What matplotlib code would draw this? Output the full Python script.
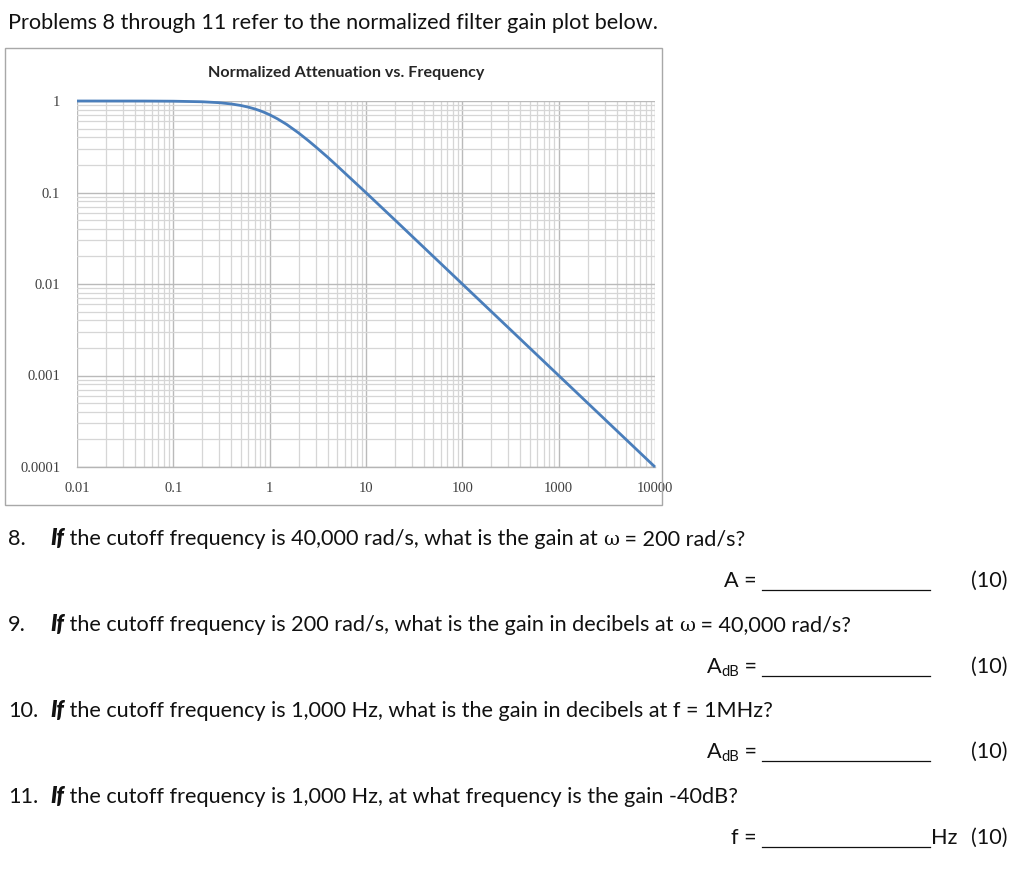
import matplotlib
matplotlib.use('Agg')
import matplotlib.pyplot as plt
from matplotlib.ticker import LogLocator, NullFormatter
from matplotlib.patches import Rectangle
from matplotlib.lines import Line2D
import numpy as np

# ---- data ----
freq = [0.01, 0.05, 0.1, 0.2, 0.3, 0.4, 0.5, 0.6, 0.7, 0.8, 0.9, 1.0, 1.2, 1.5,
        2.0, 2.5, 3.0, 4.0, 5.0, 7.0, 10, 20, 50, 100, 1000, 10000]
gain = [1.0, 0.999, 0.995, 0.981, 0.958, 0.928, 0.894, 0.857, 0.819, 0.781,
        0.743, 0.707, 0.640, 0.555, 0.447, 0.371, 0.316, 0.243, 0.196, 0.141,
        0.0995, 0.050, 0.020, 0.010, 0.001, 0.0001]
x_ticks = [0.01, 0.1, 1, 10, 100, 1000, 10000]
x_tick_labels = ['0.01', '0.1', '1', '10', '100', '1000', '10000']
y_ticks = [0.0001, 0.001, 0.01, 0.1, 1]
y_tick_labels = ['0.0001', '0.001', '0.01', '0.1', '1']
chart_title = 'Normalized Attenuation vs. Frequency'
header = 'Problems 8 through 11 refer to the normalized filter gain plot below.'

W, H = 1024, 874
fig = plt.figure(figsize=(W / 100, H / 100), dpi=100)
fig.patch.set_facecolor('white')

def fx(x):
    return x / W

def fy(y):
    return 1 - y / H

# ---- chart ----
ax = fig.add_axes([fx(77), fy(467), (655 - 77) / W, (467 - 101) / H])
ax.set_xscale('log')
ax.set_yscale('log')
ax.set_xlim(0.01, 10000)
ax.set_ylim(1e-4, 1)
ax.plot(freq, gain, color='#4a7ebb', lw=2.0, clip_on=False, zorder=5,
        solid_capstyle='butt')
ax.set_xticks(x_ticks, x_tick_labels)
ax.set_yticks(y_ticks, y_tick_labels)
ax.xaxis.set_minor_locator(LogLocator(base=10, subs=np.arange(2, 10), numticks=50))
ax.yaxis.set_minor_locator(LogLocator(base=10, subs=np.arange(2, 10), numticks=50))
ax.xaxis.set_minor_formatter(NullFormatter())
ax.yaxis.set_minor_formatter(NullFormatter())
ax.grid(which='major', color='#bababa', lw=1.0)
ax.grid(which='minor', color='#d6d6d6', lw=0.9)
ax.set_axisbelow(True)
ax.tick_params(which='both', length=0)
ax.tick_params(axis='x', pad=11)
ax.tick_params(axis='y', pad=12)
for lab in ax.get_xticklabels() + ax.get_yticklabels():
    lab.set_fontfamily('Liberation Serif')
    lab.set_fontsize(10.5)
    lab.set_color('#404040')
for side in ['top', 'right', 'left']:
    ax.spines[side].set_visible(False)
ax.spines['bottom'].set_color('#b5b5b5')
ax.spines['bottom'].set_linewidth(1.0)

fig.add_artist(Rectangle((fx(5), fy(505)), (662 - 5) / W, (505 - 48) / H,
                         transform=fig.transFigure, fill=False,
                         edgecolor='#a8a8a8', lw=1.0))
fig.text(fx(346), fy(72), chart_title, ha='center', va='center_baseline',
         fontsize=11.6, fontweight='bold', family='Lato', color='#262626')

# ---- text helpers ----
renderer = fig.canvas.get_renderer()
BASE = dict(family='Lato', fontsize=15.6, color='#111111')

def text_width(s, **kw):
    t1 = fig.text(0, 0, '|' + s + '|', **kw)
    t2 = fig.text(0, 0, '||', **kw)
    w = t1.get_window_extent(renderer).width - t2.get_window_extent(renderer).width
    t1.remove()
    t2.remove()
    return w

def pieces(x, y, items, align='left'):
    widths = []
    for s, kw, dy in items:
        widths.append(text_width(s, **kw))
    total = sum(widths)
    cur = x if align == 'left' else x - total
    for (s, kw, dy), w in zip(items, widths):
        fig.text(fx(cur), fy(y + dy), s, ha='left', va='baseline', **kw)
        cur += w
    return cur

REG = BASE
BI = dict(BASE, fontweight='heavy', fontstyle='italic')
OM = dict(BASE, family='DejaVu Serif', fontsize=14)
SUB = dict(BASE, fontsize=10.5)

fig.text(fx(8), fy(29), header, ha='left', va='baseline', **BASE)

questions = [
    ('8.', 8, 545, [('If', BI, 0), (' the cutoff frequency is 40,000 rad/s, what is the gain at ', REG, 0),
                    ('ω', OM, 0), (' = 200 rad/s?', REG, 0)]),
    ('9.', 8, 631, [('If', BI, 0), (' the cutoff frequency is 200 rad/s, what is the gain in decibels at ', REG, 0),
                    ('ω', OM, 0), (' = 40,000 rad/s?', REG, 0)]),
    ('10.', 8, 717, [('If', BI, 0), (' the cutoff frequency is 1,000 Hz, what is the gain in decibels at f = 1MHz?', REG, 0)]),
    ('11.', 8, 803, [('If', BI, 0), (' the cutoff frequency is 1,000 Hz, at what frequency is the gain -40dB?', REG, 0)]),
]
for num, x, y, items in questions:
    fig.text(fx(x), fy(y), num, ha='left', va='baseline', **BASE)
    pieces(50, y, items)

answers = [
    (587, [('A =', REG, 0)], ''),
    (673, [('A', REG, 0), ('dB', SUB, 3), (' =', REG, 0)], ''),
    (758, [('A', REG, 0), ('dB', SUB, 3), (' =', REG, 0)], ''),
    (844, [('f =', REG, 0)], 'Hz'),
]
for y, items, unit in answers:
    pieces(757, y, items, align='right')
    fig.add_artist(Line2D([fx(762), fx(930)], [fy(y + 3), fy(y + 3)],
                          transform=fig.transFigure, color='#111111', lw=0.9))
    if unit:
        fig.text(fx(931), fy(y), unit, ha='left', va='baseline', **BASE)
    fig.text(fx(1008), fy(y), '(10)', ha='right', va='baseline', **BASE)

fig.savefig('out.png', dpi=100, facecolor='white')
